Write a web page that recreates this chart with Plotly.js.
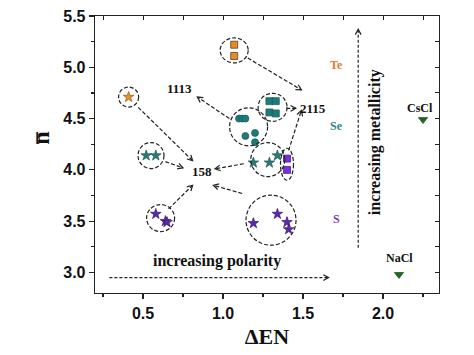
<!DOCTYPE html>
<html><head><meta charset="utf-8">
<script src="https://cdn.plot.ly/plotly-3.0.1.min.js"></script>
<style>html,body{margin:0;padding:0;background:#fff}#c{width:474px;height:355px}</style>
</head><body><div id="c"></div>
<script>
// ---- data ----
const teX = [1.07, 1.07];
const teY = [5.22, 5.11];
const teStarX = [0.41];
const teStarY = [4.71];
const seSqX = [1.29, 1.33, 1.29, 1.33];
const seSqY = [4.67, 4.67, 4.56, 4.55];
const seCircX = [1.10, 1.12, 1.14, 1.14, 1.20, 1.20];
const seCircY = [4.50, 4.50, 4.50, 4.33, 4.36, 4.27];
const seStarX = [0.52, 0.58, 1.19, 1.29, 1.34];
const seStarY = [4.14, 4.14, 4.07, 4.07, 4.14];
const sSqX = [1.40, 1.40];
const sSqY = [4.11, 4.00];
const sStarX = [0.58, 0.64, 0.65, 1.19, 1.34, 1.40, 1.41];
const sStarY = [3.57, 3.50, 3.49, 3.48, 3.57, 3.49, 3.42];
const saltX = [2.25, 2.10];
const saltY = [4.49, 2.98];
const saltLabels = ['CsCl', 'NaCl'];
const xTicks = [0.5, 1.0, 1.5, 2.0];
const yTicks = [3.0, 3.5, 4.0, 4.5, 5.0, 5.5];

// ---- layout constants ----
const W = 474, H = 355, M = {l: 95, r: 35, t: 16, b: 62};
const XR = [0.2, 2.35], YR = [2.8, 5.5];
const pxX = (W - M.l - M.r) / (XR[1] - XR[0]);
const pxY = (H - M.t - M.b) / (YR[1] - YR[0]);

const edge = '#333';
function mk(x, y, sym, color, size, name, lc) {
  return {x, y, type: 'scatter', mode: 'markers', name, showlegend: false, hoverinfo: 'skip',
    marker: {symbol: sym, color, size, line: {color: lc || edge, width: 0.7}}};
}
const traces = [
  mk(teX, teY, 'square', '#ee8a1c', 7, 'Te sq'),
  mk(teStarX, teStarY, 'star', '#e8902a', 8, 'Te star', '#8a5a20'),
  mk(seSqX, seSqY, 'square', '#1d7b78', 7, 'Se sq', '#1d5a58'),
  mk(seCircX, seCircY, 'circle', '#1d7b78', 7, 'Se circ', '#1d5a58'),
  mk(seStarX, seStarY, 'star', '#2a7a78', 8, 'Se star', '#1d5a58'),
  mk(sSqX, sSqY, 'square', '#7b2fe0', 7, 'S sq', '#3a1a70'),
  mk(sStarX, sStarY, 'star', '#5a2aa8', 8, 'S star', '#3a1a70'),
  mk(saltX, saltY, 'triangle-down', '#1e6a1e', 8, 'salt', '#1e4a1e'),
  {x: [XR[0]], y: [YR[0]], xaxis: 'x2', yaxis: 'y2', type: 'scatter', mode: 'markers',
   marker: {opacity: 0}, showlegend: false, hoverinfo: 'skip'}
];

// dashed ellipses (data coords: cx, cy, rx px, ry px)
const rings = [
  [1.07, 5.165, 14, 12.5],
  [0.41, 4.71, 10, 10],
  [0.55, 4.14, 13, 13],
  [0.61, 3.53, 14, 13.5],
  [1.30, 3.51, 25, 25],
  [1.28, 4.10, 17, 17],
  [1.40, 4.055, 6.5, 16],
  [1.16, 4.42, 19, 19],
  [1.31, 4.61, 14.5, 14]
];
const shapes = rings.map(r => ({type: 'circle', xref: 'x', yref: 'y',
  x0: r[0] - r[2] / pxX, x1: r[0] + r[2] / pxX, y0: r[1] - r[3] / pxY, y1: r[1] + r[3] / pxY,
  line: {color: '#222', width: 1.2, dash: '4px,2px'}}));

// dashed arrows [x0,y0,x1,y1] in data coords
const arrows = [
  [1.155, 5.09, 1.49, 4.78],
  [1.395, 4.60, 1.455, 4.60],
  [1.41, 4.19, 1.49, 4.58],
  [1.04, 4.50, 0.84, 4.71],
  [0.47, 4.61, 0.81, 4.09],
  [0.64, 4.08, 0.75, 4.02],
  [1.13, 4.06, 0.95, 4.01],
  [0.66, 3.62, 0.81, 3.85],
  [1.12, 3.77, 0.94, 3.85],
  [0.29, 2.95, 1.66, 2.95],
  [1.845, 3.24, 1.845, 5.37]
];
arrows.forEach((a, i) => {
  shapes.push({type: 'line', xref: 'x', yref: 'y', x0: a[0], y0: a[1], x1: a[2], y1: a[3],
    line: {color: '#222', width: 1.2, dash: i >= 9 ? '3px,2px' : '4px,2px'}});
  // open V head computed in pixel space
  const dx = (a[2] - a[0]) * pxX, dy = (a[3] - a[1]) * pxY;
  const L = Math.hypot(dx, dy), ux = dx / L, uy = dy / L;
  const hl = 6, ang = 0.5;
  const p = s => {
    const c = Math.cos(s * ang), sn = Math.sin(s * ang);
    const bx = -(ux * c - uy * sn) * hl, by = -(ux * sn + uy * c) * hl;
    return [a[2] + bx / pxX, a[3] + by / pxY];
  };
  const p1 = p(1), p2 = p(-1);
  shapes.push({type: 'path', xref: 'x', yref: 'y',
    path: `M${p1[0]},${p1[1]} L${a[2]},${a[3]} L${p2[0]},${p2[1]}`,
    line: {color: '#222', width: 1.2}});
});

const serifB = {family: 'Liberation Serif, Times New Roman, serif', weight: 'bold', color: '#111'};
function txt(x, y, t, size, color, extra) {
  return Object.assign({x, y, xref: 'x', yref: 'y', text: t, showarrow: false,
    font: Object.assign({}, serifB, {size, color: color || '#111'})}, extra || {});
}
const annotations = [
  txt(0.725, 4.79, '1113', 13),
  txt(1.565, 4.60, '2115', 13),
  txt(0.87, 3.98, '158', 13),
  txt(1.71, 5.02, 'Te', 12, '#e8772e'),
  txt(1.71, 4.43, 'Se', 12, '#2a8684'),
  txt(1.71, 3.52, 'S', 12, '#7a3ab8'),
  txt(saltX[0] - 0.02, saltY[0] + 0.11, saltLabels[0], 12),
  txt(saltX[1], saltY[1] + 0.16, saltLabels[1], 12),
  txt(0.96, 3.11, 'increasing polarity', 16),
  txt(1.95, 4.27, 'increasing metallicity', 16, '#111', {textangle: -90}),
  {xref: 'paper', yref: 'paper', x: -0.2, y: 0.56, text: 'n\u0305', showarrow: false,
   textangle: -90, font: Object.assign({}, serifB, {size: 24})}
];

const tickFont = {family: 'Liberation Sans, Arial, sans-serif', size: 16, weight: 'bold', color: '#111'};
const layout = {
  width: W, height: H, margin: M, paper_bgcolor: '#fff', plot_bgcolor: '#fff',
  showlegend: false,
  xaxis: {range: XR, tickvals: xTicks, ticktext: xTicks.map(v => v.toFixed(1)),
    ticks: 'outside', ticklen: 5, tickwidth: 1.2, tickcolor: '#222',
    showline: true, linecolor: '#222', linewidth: 1.3, showgrid: false, zeroline: false,
    tickfont: tickFont,
    minor: {tickvals: [0.25, 0.75, 1.25, 1.75, 2.25], ticks: 'outside', ticklen: 3, tickcolor: '#222'},
    title: {text: '\u0394EN', font: Object.assign({}, serifB, {size: 22}), standoff: 8}},
  yaxis: {range: YR, tickvals: yTicks, ticktext: yTicks.map(v => v.toFixed(1)),
    ticks: 'outside', ticklen: 5, tickwidth: 1.2, tickcolor: '#222',
    showline: true, linecolor: '#222', linewidth: 1.3, showgrid: false, zeroline: false,
    tickfont: tickFont,
    minor: {tickvals: [3.25, 3.75, 4.25, 4.75, 5.25], ticks: 'outside', ticklen: 3, tickcolor: '#222'}},
  xaxis2: {range: XR, overlaying: 'x', side: 'top', tickvals: xTicks.concat([0.25, 0.75, 1.25, 1.75, 2.25]),
    showticklabels: false, ticks: 'inside', ticklen: 4, tickcolor: '#222',
    showline: true, linecolor: '#222', linewidth: 1.3, showgrid: false, zeroline: false},
  yaxis2: {range: YR, overlaying: 'y', side: 'right', anchor: 'x2',
    tickvals: yTicks.concat([3.25, 3.75, 4.25, 4.75, 5.25]),
    showticklabels: false, ticks: 'inside', ticklen: 4, tickcolor: '#222',
    showline: true, linecolor: '#222', linewidth: 1.3, showgrid: false, zeroline: false},
  shapes, annotations
};
Plotly.newPlot('c', traces, layout, {staticPlot: true, displayModeBar: false});
</script></body></html>
